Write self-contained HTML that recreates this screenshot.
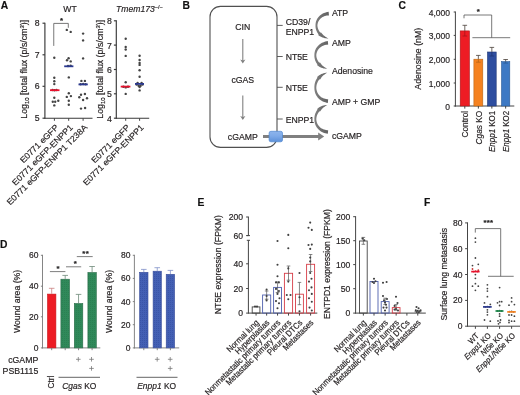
<!DOCTYPE html>
<html lang="en"><head><meta charset="utf-8"><title>Figure</title>
<style>
html,body{margin:0;padding:0;background:#fff;}
body{width:520px;height:395px;overflow:hidden;}
svg{display:block;font-family:"Liberation Sans",sans-serif;}
text{stroke:#231f20;stroke-width:0.18px;}
</style></head><body>
<svg width="520" height="395" viewBox="0 0 520 395">
<rect width="520" height="395" fill="#fff"/>
<text x="0.80" y="9.30" font-size="10.3" font-weight="bold" fill="#111" stroke-width="0">A</text>
<text x="182.40" y="9.20" font-size="10.3" font-weight="bold" fill="#111" stroke-width="0">B</text>
<text x="398.60" y="9.10" font-size="10.3" font-weight="bold" fill="#111" stroke-width="0">C</text>
<text x="0.10" y="247.70" font-size="10.3" font-weight="bold" fill="#111" stroke-width="0">D</text>
<text x="197.40" y="206.00" font-size="10.3" font-weight="bold" fill="#111" stroke-width="0">E</text>
<text x="423.90" y="206.00" font-size="10.3" font-weight="bold" fill="#111" stroke-width="0">F</text>
<line x1="44.90" y1="22.70" x2="44.90" y2="118.70" stroke="#383838" stroke-width="1.15" />
<line x1="42.50" y1="23.20" x2="44.90" y2="23.20" stroke="#383838" stroke-width="1.15" />
<text x="39.50" y="26.25" font-size="8.7" text-anchor="end" fill="#231f20" >8</text>
<line x1="42.50" y1="54.80" x2="44.90" y2="54.80" stroke="#383838" stroke-width="1.15" />
<text x="39.50" y="57.85" font-size="8.7" text-anchor="end" fill="#231f20" >7</text>
<line x1="42.50" y1="86.30" x2="44.90" y2="86.30" stroke="#383838" stroke-width="1.15" />
<text x="39.50" y="89.35" font-size="8.7" text-anchor="end" fill="#231f20" >6</text>
<line x1="42.50" y1="118.20" x2="44.90" y2="118.20" stroke="#383838" stroke-width="1.15" />
<text x="39.50" y="121.25" font-size="8.7" text-anchor="end" fill="#231f20" >5</text>
<line x1="44.40" y1="118.20" x2="92.50" y2="118.20" stroke="#383838" stroke-width="1.15" />
<line x1="54.40" y1="118.20" x2="54.40" y2="120.80" stroke="#454545" stroke-width="1.0" />
<line x1="68.70" y1="118.20" x2="68.70" y2="120.80" stroke="#454545" stroke-width="1.0" />
<line x1="83.10" y1="118.20" x2="83.10" y2="120.80" stroke="#454545" stroke-width="1.0" />
<text x="70.00" y="12.30" font-size="8.6" text-anchor="middle" fill="#231f20" >WT</text>
<text transform="translate(27.10 69.30) rotate(-90) scale(1.05 1)" font-size="8.4" text-anchor="middle" fill="#231f20" >Log<tspan font-size="5.6" dy="1.6">10</tspan><tspan dy="-1.6"> [total flux (p/s/cm</tspan><tspan font-size="5.6" dy="-2.8">3</tspan><tspan dy="2.8">)]</tspan></text>
<polyline points="53.75,45.9 53.75,23.4 68.3,23.4 68.3,27.8" fill="none" stroke="#555" stroke-width="0.8"/>
<text x="61.60" y="23.07" font-size="7.8" text-anchor="middle" font-weight="bold" fill="#222" >*</text>
<circle cx="54.30" cy="57.80" r="1.2" fill="#444444"/>
<circle cx="54.30" cy="77.70" r="1.2" fill="#444444"/>
<circle cx="54.30" cy="81.20" r="1.2" fill="#444444"/>
<circle cx="54.30" cy="84.10" r="1.2" fill="#444444"/>
<circle cx="52.50" cy="90.00" r="1.2" fill="#444444"/>
<circle cx="54.50" cy="90.30" r="1.2" fill="#444444"/>
<circle cx="56.50" cy="90.00" r="1.2" fill="#444444"/>
<circle cx="54.30" cy="97.70" r="1.2" fill="#444444"/>
<circle cx="52.80" cy="101.80" r="1.2" fill="#444444"/>
<circle cx="55.20" cy="101.80" r="1.2" fill="#444444"/>
<circle cx="58.30" cy="100.70" r="1.2" fill="#444444"/>
<circle cx="54.30" cy="105.40" r="1.2" fill="#444444"/>
<circle cx="66.80" cy="29.90" r="1.2" fill="#444444"/>
<circle cx="70.70" cy="31.90" r="1.2" fill="#444444"/>
<circle cx="68.60" cy="58.20" r="1.2" fill="#444444"/>
<circle cx="67.00" cy="60.30" r="1.2" fill="#444444"/>
<circle cx="70.70" cy="61.40" r="1.2" fill="#444444"/>
<circle cx="68.00" cy="66.00" r="1.2" fill="#444444"/>
<circle cx="70.60" cy="65.60" r="1.2" fill="#444444"/>
<circle cx="68.80" cy="77.40" r="1.2" fill="#444444"/>
<circle cx="68.80" cy="93.20" r="1.2" fill="#444444"/>
<circle cx="66.80" cy="96.90" r="1.2" fill="#444444"/>
<circle cx="70.90" cy="96.10" r="1.2" fill="#444444"/>
<circle cx="68.80" cy="100.70" r="1.2" fill="#444444"/>
<circle cx="68.80" cy="104.80" r="1.2" fill="#444444"/>
<circle cx="83.10" cy="33.60" r="1.2" fill="#444444"/>
<circle cx="83.10" cy="40.40" r="1.2" fill="#444444"/>
<circle cx="83.10" cy="58.40" r="1.2" fill="#444444"/>
<circle cx="81.40" cy="80.90" r="1.2" fill="#444444"/>
<circle cx="84.90" cy="80.90" r="1.2" fill="#444444"/>
<circle cx="80.60" cy="84.20" r="1.2" fill="#444444"/>
<circle cx="83.20" cy="84.00" r="1.2" fill="#444444"/>
<circle cx="85.60" cy="84.20" r="1.2" fill="#444444"/>
<circle cx="81.00" cy="94.80" r="1.2" fill="#444444"/>
<circle cx="84.90" cy="94.00" r="1.2" fill="#444444"/>
<circle cx="79.30" cy="97.20" r="1.2" fill="#444444"/>
<circle cx="87.00" cy="98.30" r="1.2" fill="#444444"/>
<circle cx="83.10" cy="100.00" r="1.2" fill="#444444"/>
<circle cx="81.00" cy="108.60" r="1.2" fill="#444444"/>
<circle cx="85.10" cy="108.00" r="1.2" fill="#444444"/>
<line x1="50.00" y1="90.20" x2="59.50" y2="90.20" stroke="#e8112d" stroke-width="1.8" />
<line x1="64.20" y1="66.30" x2="73.40" y2="66.30" stroke="#2b3990" stroke-width="1.8" />
<line x1="78.50" y1="84.40" x2="87.80" y2="84.40" stroke="#2b3990" stroke-width="1.8" />
<text transform="translate(59.00 128.00) rotate(-45) scale(1.04 1)" font-size="8.4" text-anchor="end" fill="#231f20" >E0771 eGFP</text>
<text transform="translate(73.40 128.00) rotate(-45) scale(1.04 1)" font-size="8.4" text-anchor="end" fill="#231f20" >E0771 eGFP-ENPP1</text>
<text transform="translate(87.80 128.00) rotate(-45) scale(1.04 1)" font-size="8.4" text-anchor="end" fill="#231f20" >E0771 eGFP-ENPP1 T238A</text>
<line x1="116.30" y1="20.30" x2="116.30" y2="118.70" stroke="#383838" stroke-width="1.15" />
<line x1="113.90" y1="20.80" x2="116.30" y2="20.80" stroke="#383838" stroke-width="1.15" />
<text x="111.80" y="24.20" font-size="8.7" text-anchor="end" fill="#231f20" >8</text>
<line x1="113.90" y1="45.10" x2="116.30" y2="45.10" stroke="#383838" stroke-width="1.15" />
<text x="111.80" y="48.50" font-size="8.7" text-anchor="end" fill="#231f20" >7</text>
<line x1="113.90" y1="69.50" x2="116.30" y2="69.50" stroke="#383838" stroke-width="1.15" />
<text x="111.80" y="72.90" font-size="8.7" text-anchor="end" fill="#231f20" >6</text>
<line x1="113.90" y1="93.80" x2="116.30" y2="93.80" stroke="#383838" stroke-width="1.15" />
<text x="111.80" y="97.20" font-size="8.7" text-anchor="end" fill="#231f20" >5</text>
<line x1="113.90" y1="118.20" x2="116.30" y2="118.20" stroke="#383838" stroke-width="1.15" />
<text x="111.80" y="121.60" font-size="8.7" text-anchor="end" fill="#231f20" >4</text>
<line x1="115.80" y1="118.20" x2="149.20" y2="118.20" stroke="#383838" stroke-width="1.15" />
<line x1="125.70" y1="118.20" x2="125.70" y2="120.80" stroke="#454545" stroke-width="1.0" />
<line x1="139.60" y1="118.20" x2="139.60" y2="120.80" stroke="#454545" stroke-width="1.0" />
<text x="139.50" y="12.30" font-size="8.6" text-anchor="middle" font-style="italic" fill="#231f20" >Tmem173<tspan font-size="5.6" dy="-3" font-style="normal">−/−</tspan></text>
<text transform="translate(103.20 69.30) rotate(-90) scale(1.05 1)" font-size="8.4" text-anchor="middle" fill="#231f20" >Log<tspan font-size="5.6" dy="1.6">10</tspan><tspan dy="-1.6"> [total flux (p/s/cm</tspan><tspan font-size="5.6" dy="-2.8">3</tspan><tspan dy="2.8">)]</tspan></text>
<circle cx="125.70" cy="38.80" r="1.2" fill="#444444"/>
<circle cx="125.70" cy="46.90" r="1.2" fill="#444444"/>
<circle cx="125.70" cy="49.50" r="1.2" fill="#444444"/>
<circle cx="125.70" cy="55.90" r="1.2" fill="#444444"/>
<circle cx="125.70" cy="82.20" r="1.2" fill="#444444"/>
<circle cx="123.40" cy="86.80" r="1.2" fill="#444444"/>
<circle cx="125.70" cy="87.40" r="1.2" fill="#444444"/>
<circle cx="128.00" cy="86.80" r="1.2" fill="#444444"/>
<circle cx="125.70" cy="93.90" r="1.2" fill="#444444"/>
<circle cx="139.60" cy="55.70" r="1.2" fill="#444444"/>
<circle cx="139.60" cy="60.00" r="1.2" fill="#444444"/>
<circle cx="139.60" cy="62.90" r="1.2" fill="#444444"/>
<circle cx="139.60" cy="64.90" r="1.2" fill="#444444"/>
<circle cx="139.60" cy="70.20" r="1.2" fill="#444444"/>
<circle cx="139.60" cy="76.70" r="1.2" fill="#444444"/>
<circle cx="136.60" cy="84.50" r="1.2" fill="#444444"/>
<circle cx="138.60" cy="85.80" r="1.2" fill="#444444"/>
<circle cx="140.60" cy="85.80" r="1.2" fill="#444444"/>
<circle cx="142.60" cy="84.50" r="1.2" fill="#444444"/>
<circle cx="137.60" cy="83.00" r="1.2" fill="#444444"/>
<circle cx="141.60" cy="83.00" r="1.2" fill="#444444"/>
<circle cx="139.60" cy="87.00" r="1.2" fill="#444444"/>
<circle cx="139.60" cy="90.40" r="1.2" fill="#444444"/>
<line x1="120.70" y1="86.60" x2="130.40" y2="86.60" stroke="#e8112d" stroke-width="1.8" />
<line x1="135.00" y1="83.90" x2="144.00" y2="83.90" stroke="#2b3990" stroke-width="1.8" />
<text transform="translate(130.40 128.00) rotate(-45) scale(1.04 1)" font-size="8.4" text-anchor="end" fill="#231f20" >E0771 eGFP</text>
<text transform="translate(144.30 128.00) rotate(-45) scale(1.04 1)" font-size="8.4" text-anchor="end" fill="#231f20" >E0771 eGFP-ENPP1</text>
<rect x="210" y="6.4" width="67" height="141.0" rx="10.5" ry="10.5" fill="#fff" stroke="#505050" stroke-width="1.1"/>
<text x="242.80" y="30.40" font-size="8.7" text-anchor="middle" fill="#231f20" >CIN</text>
<text x="242.80" y="82.80" font-size="8.7" text-anchor="middle" fill="#231f20" >cGAS</text>
<text x="242.80" y="139.70" font-size="8.7" text-anchor="middle" fill="#231f20" >cGAMP</text>
<line x1="242.80" y1="39.00" x2="242.80" y2="62.00" stroke="#808080" stroke-width="1.1" />
<polygon points="240.2,59.4 242.8,60.4 245.4,59.4 242.8,63.4" fill="#808080"/>
<line x1="242.80" y1="95.40" x2="242.80" y2="118.60" stroke="#808080" stroke-width="1.1" />
<polygon points="240.2,116.0 242.8,117.0 245.4,116.0 242.8,120.0" fill="#808080"/>
<line x1="277.00" y1="25.40" x2="282.70" y2="25.40" stroke="#4d4d4d" stroke-width="0.9" />
<line x1="277.00" y1="56.50" x2="282.70" y2="56.50" stroke="#4d4d4d" stroke-width="0.9" />
<line x1="277.00" y1="87.30" x2="282.70" y2="87.30" stroke="#4d4d4d" stroke-width="0.9" />
<line x1="277.00" y1="119.00" x2="282.70" y2="119.00" stroke="#4d4d4d" stroke-width="0.9" />
<text x="285.70" y="25.20" font-size="8.7" fill="#231f20" >CD39/</text>
<text x="285.70" y="35.10" font-size="8.7" fill="#231f20" >ENPP1</text>
<text x="285.70" y="59.70" font-size="8.7" fill="#231f20" >NT5E</text>
<text x="285.70" y="91.40" font-size="8.7" fill="#231f20" >NT5E</text>
<text x="285.70" y="122.50" font-size="8.7" fill="#231f20" >ENPP1</text>
<text x="331.90" y="16.40" font-size="8.7" fill="#231f20" >ATP</text>
<text x="331.90" y="45.90" font-size="8.7" fill="#231f20" >AMP</text>
<text x="331.90" y="73.60" font-size="8.7" fill="#231f20" >Adenosine</text>
<text x="331.90" y="104.80" font-size="8.7" fill="#231f20" >AMP + GMP</text>
<text x="331.90" y="138.90" font-size="8.7" fill="#231f20" >cGAMP</text>
<line x1="263.00" y1="136.40" x2="319.50" y2="136.40" stroke="#808080" stroke-width="3.0" />
<polygon points="318.2,132.4 324.2,136.4 318.2,140.4" fill="#808080"/>
<defs><linearGradient id="bg" x1="0" y1="0" x2="0" y2="1"><stop offset="0" stop-color="#8db4ec"/><stop offset="0.45" stop-color="#7eaae8"/><stop offset="1" stop-color="#5c90d8"/></linearGradient></defs>
<rect x="269.1" y="131.3" width="13.4" height="10.5" rx="1.8" ry="1.8" fill="url(#bg)" stroke="#4f86d0" stroke-width="0.7"/>
<defs><linearGradient id="ag" gradientUnits="userSpaceOnUse" x1="314" y1="0" x2="329" y2="0"><stop offset="0" stop-color="#808080"/><stop offset="1" stop-color="#606060"/></linearGradient></defs>
<polygon points="328.64,11.81 327.37,12.04 326.16,12.32 325.01,12.66 323.92,13.07 322.89,13.54 321.93,14.07 321.03,14.65 320.20,15.28 319.44,15.96 318.74,16.67 318.11,17.43 317.55,18.22 317.06,19.04 316.64,19.88 316.28,20.74 316.00,21.62 315.78,22.52 315.62,23.42 315.53,24.33 315.51,25.24 315.49,26.15 315.54,27.07 315.65,27.99 315.84,28.91 316.09,29.82 316.41,30.71 316.79,31.60 317.25,32.47 317.78,33.31 318.38,34.13 318.55,35.40 319.47,36.02 320.44,36.59 321.46,37.08 322.52,37.51 323.63,37.87 324.78,38.16 325.98,38.37 327.21,38.50 328.50,38.50 328.50,38.50 327.38,37.91 326.33,37.34 325.37,36.74 324.50,36.11 323.72,35.45 323.01,34.78 322.39,34.08 321.85,33.38 321.38,32.67 320.30,32.53 319.76,31.89 319.28,31.22 318.85,30.53 318.48,29.82 318.16,29.09 317.90,28.35 317.70,27.59 317.55,26.83 317.45,26.06 317.41,25.29 317.49,24.52 317.63,23.76 317.82,23.02 318.06,22.30 318.36,21.60 318.71,20.92 319.11,20.27 319.57,19.65 320.07,19.06 320.62,18.50 321.23,17.98 321.88,17.50 322.58,17.06 323.34,16.66 324.14,16.31 325.00,16.01 325.91,15.76 326.87,15.57 327.89,15.44 328.96,15.39" fill="url(#ag)"/>
<polygon points="327.82,41.01 326.51,41.26 325.27,41.57 324.08,41.94 322.97,42.38 321.92,42.87 320.94,43.43 320.02,44.03 319.17,44.69 318.40,45.40 317.69,46.14 317.05,46.92 316.48,47.74 315.98,48.59 315.55,49.46 315.19,50.35 314.89,51.26 314.67,52.18 314.51,53.11 314.42,54.05 314.40,54.99 314.38,55.93 314.42,56.88 314.54,57.82 314.72,58.77 314.97,59.70 315.28,60.63 315.67,61.54 316.12,62.44 316.64,63.31 317.24,64.15 317.40,65.44 318.31,66.09 319.28,66.69 320.29,67.22 321.35,67.68 322.46,68.07 323.60,68.38 324.79,68.62 326.02,68.78 327.30,68.80 327.30,68.80 326.20,68.19 325.17,67.60 324.23,66.97 323.37,66.32 322.60,65.64 321.90,64.95 321.29,64.23 320.75,63.51 320.28,62.77 319.19,62.59 318.65,61.92 318.17,61.22 317.74,60.50 317.37,59.76 317.05,59.00 316.79,58.23 316.58,57.44 316.43,56.64 316.34,55.84 316.30,55.04 316.38,54.24 316.52,53.45 316.72,52.68 316.97,51.93 317.27,51.19 317.63,50.49 318.04,49.81 318.50,49.15 319.02,48.53 319.59,47.95 320.21,47.40 320.88,46.89 321.60,46.42 322.38,46.00 323.21,45.63 324.09,45.30 325.03,45.03 326.03,44.81 327.08,44.66 328.18,44.59" fill="url(#ag)"/>
<polygon points="328.17,99.31 327.08,99.24 326.04,99.09 325.05,98.87 324.12,98.58 323.24,98.24 322.42,97.84 321.64,97.38 320.92,96.88 320.24,96.32 319.62,95.73 319.05,95.09 318.53,94.40 318.06,93.69 317.65,92.94 317.28,92.15 316.98,91.34 316.72,90.51 316.52,89.65 316.38,88.78 316.30,87.89 316.34,87.00 316.43,86.10 316.58,85.22 316.79,84.34 317.06,83.48 317.38,82.63 317.76,81.80 318.19,80.99 318.68,80.21 319.22,79.46 320.35,79.18 320.81,78.38 321.35,77.60 321.96,76.83 322.64,76.08 323.41,75.35 324.26,74.65 325.19,73.98 326.21,73.34 327.30,72.70 327.30,72.70 326.01,72.77 324.77,72.97 323.57,73.27 322.42,73.64 321.30,74.10 320.23,74.64 319.22,75.24 318.25,75.92 317.33,76.66 317.20,77.99 316.61,78.92 316.10,79.86 315.65,80.84 315.27,81.83 314.96,82.83 314.71,83.85 314.53,84.87 314.42,85.89 314.38,86.92 314.40,87.93 314.42,88.95 314.51,89.96 314.67,90.97 314.89,91.96 315.18,92.94 315.53,93.90 315.96,94.83 316.45,95.74 317.02,96.62 317.65,97.46 318.36,98.26 319.14,99.01 319.98,99.72 320.90,100.37 321.89,100.96 322.94,101.48 324.07,101.94 325.25,102.33 326.51,102.64 327.83,102.89" fill="url(#ag)"/>
<polygon points="328.16,130.21 327.06,130.15 326.02,130.01 325.03,129.80 324.09,129.53 323.21,129.20 322.39,128.82 321.61,128.39 320.89,127.91 320.22,127.39 319.60,126.82 319.03,126.22 318.52,125.57 318.05,124.89 317.64,124.18 317.28,123.44 316.97,122.68 316.72,121.89 316.52,121.08 316.38,120.25 316.30,119.41 316.34,118.57 316.43,117.72 316.58,116.89 316.79,116.06 317.05,115.24 317.37,114.44 317.75,113.66 318.18,112.90 318.67,112.16 319.21,111.45 320.32,111.23 320.78,110.46 321.32,109.71 321.93,108.97 322.62,108.25 323.39,107.55 324.24,106.88 325.18,106.24 326.20,105.62 327.30,105.00 327.30,105.00 326.02,105.04 324.78,105.22 323.59,105.48 322.44,105.82 321.33,106.24 320.26,106.74 319.25,107.30 318.28,107.94 317.36,108.63 317.22,109.94 316.63,110.82 316.11,111.73 315.66,112.66 315.27,113.61 314.96,114.57 314.71,115.54 314.54,116.52 314.42,117.50 314.38,118.48 314.40,119.46 314.42,120.44 314.51,121.41 314.67,122.37 314.89,123.32 315.18,124.26 315.54,125.18 315.97,126.08 316.47,126.95 317.04,127.79 317.67,128.60 318.38,129.37 319.16,130.09 320.01,130.76 320.93,131.38 321.91,131.95 322.97,132.45 324.09,132.88 325.27,133.25 326.52,133.55 327.84,133.79" fill="url(#ag)"/>
<line x1="455.40" y1="11.50" x2="455.40" y2="106.50" stroke="#454545" stroke-width="1.0" />
<line x1="453.70" y1="12.00" x2="455.40" y2="12.00" stroke="#454545" stroke-width="1.0" />
<text x="450.00" y="15.50" font-size="8.5" text-anchor="end" fill="#231f20" >4,000</text>
<line x1="453.70" y1="35.40" x2="455.40" y2="35.40" stroke="#454545" stroke-width="1.0" />
<text x="450.00" y="38.90" font-size="8.5" text-anchor="end" fill="#231f20" >3,000</text>
<line x1="453.70" y1="59.30" x2="455.40" y2="59.30" stroke="#454545" stroke-width="1.0" />
<text x="450.00" y="62.80" font-size="8.5" text-anchor="end" fill="#231f20" >2,000</text>
<line x1="453.70" y1="83.00" x2="455.40" y2="83.00" stroke="#454545" stroke-width="1.0" />
<text x="450.00" y="86.50" font-size="8.5" text-anchor="end" fill="#231f20" >1,000</text>
<line x1="453.70" y1="106.00" x2="455.40" y2="106.00" stroke="#454545" stroke-width="1.0" />
<text x="450.00" y="109.50" font-size="8.5" text-anchor="end" fill="#231f20" >0</text>
<line x1="454.90" y1="106.00" x2="514.30" y2="106.00" stroke="#454545" stroke-width="1.0" />
<rect x="460.20" y="30.90" width="9.20" height="75.10" fill="#ed1c24" stroke="#a8141a" stroke-width="0.6" />
<line x1="464.80" y1="30.60" x2="464.80" y2="36.00" stroke="#a8141a" stroke-width="0.8" />
<line x1="462.50" y1="36.00" x2="467.10" y2="36.00" stroke="#a8141a" stroke-width="0.8" />
<line x1="464.80" y1="25.30" x2="464.80" y2="30.60" stroke="#4a4038" stroke-width="0.8" />
<line x1="462.50" y1="25.30" x2="467.10" y2="25.30" stroke="#4a4038" stroke-width="0.8" />
<line x1="464.80" y1="106.00" x2="464.80" y2="108.60" stroke="#454545" stroke-width="1.0" />
<rect x="473.90" y="59.20" width="8.90" height="46.80" fill="#f58220" stroke="#b86414" stroke-width="0.6" />
<line x1="478.35" y1="58.90" x2="478.35" y2="62.20" stroke="#b86414" stroke-width="0.8" />
<line x1="476.05" y1="62.20" x2="480.65" y2="62.20" stroke="#b86414" stroke-width="0.8" />
<line x1="478.35" y1="55.40" x2="478.35" y2="58.90" stroke="#4a4038" stroke-width="0.8" />
<line x1="476.05" y1="55.40" x2="480.65" y2="55.40" stroke="#4a4038" stroke-width="0.8" />
<line x1="478.35" y1="106.00" x2="478.35" y2="108.60" stroke="#454545" stroke-width="1.0" />
<rect x="487.50" y="52.00" width="8.70" height="54.00" fill="#2e4ea0" stroke="#1f3674" stroke-width="0.6" />
<line x1="491.85" y1="51.70" x2="491.85" y2="56.00" stroke="#1f3674" stroke-width="0.8" />
<line x1="489.55" y1="56.00" x2="494.15" y2="56.00" stroke="#1f3674" stroke-width="0.8" />
<line x1="491.85" y1="47.40" x2="491.85" y2="51.70" stroke="#4a4038" stroke-width="0.8" />
<line x1="489.55" y1="47.40" x2="494.15" y2="47.40" stroke="#4a4038" stroke-width="0.8" />
<line x1="491.85" y1="106.00" x2="491.85" y2="108.60" stroke="#454545" stroke-width="1.0" />
<rect x="501.50" y="61.60" width="8.30" height="44.40" fill="#3d79c4" stroke="#2b5a96" stroke-width="0.6" />
<line x1="505.65" y1="61.30" x2="505.65" y2="63.10" stroke="#2b5a96" stroke-width="0.8" />
<line x1="503.35" y1="63.10" x2="507.95" y2="63.10" stroke="#2b5a96" stroke-width="0.8" />
<line x1="505.65" y1="59.50" x2="505.65" y2="61.30" stroke="#4a4038" stroke-width="0.8" />
<line x1="503.35" y1="59.50" x2="507.95" y2="59.50" stroke="#4a4038" stroke-width="0.8" />
<line x1="505.65" y1="106.00" x2="505.65" y2="108.60" stroke="#454545" stroke-width="1.0" />
<text transform="translate(420.90 58.75) rotate(-90) scale(1.046 1)" font-size="8.4" text-anchor="middle" fill="#231f20" >Adenosine (nM)</text>
<polyline points="464,18.3 464,15.0 491.7,15.0 491.7,37.7" fill="none" stroke="#555" stroke-width="0.8"/>
<line x1="472.40" y1="37.70" x2="510.20" y2="37.70" stroke="#555" stroke-width="0.8" />
<text x="478.30" y="13.97" font-size="7.8" text-anchor="middle" font-weight="bold" fill="#222" >*</text>
<text transform="translate(468.20 110.80) rotate(-90) scale(1.0 1)" font-size="8.3" text-anchor="end" fill="#231f20" >Control</text>
<text transform="translate(481.70 110.80) rotate(-90) scale(1.0 1)" font-size="8.3" text-anchor="end" fill="#231f20" ><tspan font-style="italic">Cgas</tspan> KO</text>
<text transform="translate(495.30 110.80) rotate(-90) scale(0.96 1)" font-size="8.3" text-anchor="end" fill="#231f20" ><tspan font-style="italic">Enpp1</tspan> KO1</text>
<text transform="translate(508.80 110.80) rotate(-90) scale(0.96 1)" font-size="8.3" text-anchor="end" fill="#231f20" ><tspan font-style="italic">Enpp1</tspan> KO2</text>
<defs><pattern id="pg" width="2" height="2" patternUnits="userSpaceOnUse"><rect width="2" height="2" fill="#30895a"/><rect width="1" height="1" fill="#2b8052"/></pattern><pattern id="pb" width="2" height="2" patternUnits="userSpaceOnUse"><rect width="2" height="2" fill="#4460b4"/><rect width="1" height="1" fill="#3a55a8"/></pattern></defs>
<line x1="42.50" y1="254.80" x2="42.50" y2="348.40" stroke="#777" stroke-width="0.9" />
<line x1="40.90" y1="255.30" x2="42.50" y2="255.30" stroke="#777" stroke-width="0.9" />
<text x="38.50" y="258.35" font-size="8.5" text-anchor="end" fill="#231f20" >60</text>
<line x1="40.90" y1="286.20" x2="42.50" y2="286.20" stroke="#777" stroke-width="0.9" />
<text x="38.50" y="289.25" font-size="8.5" text-anchor="end" fill="#231f20" >40</text>
<line x1="40.90" y1="316.80" x2="42.50" y2="316.80" stroke="#777" stroke-width="0.9" />
<text x="38.50" y="319.85" font-size="8.5" text-anchor="end" fill="#231f20" >20</text>
<line x1="40.90" y1="347.90" x2="42.50" y2="347.90" stroke="#777" stroke-width="0.9" />
<text x="38.50" y="350.95" font-size="8.5" text-anchor="end" fill="#231f20" >0</text>
<line x1="42.10" y1="347.90" x2="100.30" y2="347.90" stroke="#777" stroke-width="0.9" />
<rect x="47.50" y="294.10" width="8.40" height="53.80" fill="#ed1c24" stroke="#c9161b" stroke-width="0.6" />
<line x1="51.70" y1="288.30" x2="51.70" y2="293.80" stroke="#c98080" stroke-width="0.8" />
<line x1="48.90" y1="288.30" x2="54.50" y2="288.30" stroke="#c98080" stroke-width="0.8" />
<line x1="51.70" y1="347.90" x2="51.70" y2="350.20" stroke="#777" stroke-width="0.9" />
<rect x="60.90" y="279.20" width="8.60" height="68.70" fill="url(#pg)" stroke="#2a6c48" stroke-width="0.6" />
<line x1="65.20" y1="275.40" x2="65.20" y2="278.90" stroke="#6f8a7a" stroke-width="0.8" />
<line x1="62.40" y1="275.40" x2="68.00" y2="275.40" stroke="#6f8a7a" stroke-width="0.8" />
<line x1="65.20" y1="347.90" x2="65.20" y2="350.20" stroke="#777" stroke-width="0.9" />
<rect x="74.30" y="303.50" width="8.50" height="44.40" fill="url(#pg)" stroke="#2a6c48" stroke-width="0.6" />
<line x1="78.55" y1="294.40" x2="78.55" y2="303.20" stroke="#6f8a7a" stroke-width="0.8" />
<line x1="75.75" y1="294.40" x2="81.35" y2="294.40" stroke="#6f8a7a" stroke-width="0.8" />
<line x1="78.55" y1="347.90" x2="78.55" y2="350.20" stroke="#777" stroke-width="0.9" />
<rect x="87.90" y="272.50" width="8.40" height="75.40" fill="url(#pg)" stroke="#2a6c48" stroke-width="0.6" />
<line x1="92.10" y1="266.50" x2="92.10" y2="272.20" stroke="#6f8a7a" stroke-width="0.8" />
<line x1="89.30" y1="266.50" x2="94.90" y2="266.50" stroke="#6f8a7a" stroke-width="0.8" />
<line x1="92.10" y1="347.90" x2="92.10" y2="350.20" stroke="#777" stroke-width="0.9" />
<text transform="translate(20.30 301.45) rotate(-90) scale(1.04 1)" font-size="8.4" text-anchor="middle" fill="#231f20" >Wound area (%)</text>
<line x1="49.90" y1="271.60" x2="65.40" y2="271.60" stroke="#707070" stroke-width="0.9" />
<text x="58.00" y="271.27" font-size="7.8" text-anchor="middle" font-weight="bold" fill="#222" >*</text>
<line x1="66.00" y1="266.80" x2="81.20" y2="266.80" stroke="#707070" stroke-width="0.9" />
<text x="75.20" y="266.47" font-size="7.8" text-anchor="middle" font-weight="bold" fill="#222" >*</text>
<line x1="76.80" y1="256.60" x2="92.70" y2="256.60" stroke="#707070" stroke-width="0.9" />
<text x="83.85" y="256.27" font-size="7.8" text-anchor="middle" font-weight="bold" fill="#222" >*</text>
<text x="87.15" y="256.27" font-size="7.8" text-anchor="middle" font-weight="bold" fill="#222" >*</text>
<text x="38.30" y="362.70" font-size="8.75" text-anchor="end" fill="#231f20" >cGAMP</text>
<text x="38.30" y="374.10" font-size="8.75" text-anchor="end" fill="#231f20" >PSB1115</text>
<line x1="76.00" y1="359.30" x2="80.60" y2="359.30" stroke="#777" stroke-width="0.8" />
<line x1="78.30" y1="357.00" x2="78.30" y2="361.60" stroke="#777" stroke-width="0.8" />
<line x1="89.20" y1="359.30" x2="93.80" y2="359.30" stroke="#777" stroke-width="0.8" />
<line x1="91.50" y1="357.00" x2="91.50" y2="361.60" stroke="#777" stroke-width="0.8" />
<line x1="89.20" y1="368.40" x2="93.80" y2="368.40" stroke="#777" stroke-width="0.8" />
<line x1="91.50" y1="366.10" x2="91.50" y2="370.70" stroke="#777" stroke-width="0.8" />
<line x1="58.50" y1="377.30" x2="100.00" y2="377.30" stroke="#555" stroke-width="0.9" />
<text transform="translate(54.30 375.60) rotate(-90)" font-size="8.3" text-anchor="end" fill="#231f20" >Ctrl</text>
<text x="79.30" y="388.50" font-size="8.45" text-anchor="middle" fill="#231f20" ><tspan font-style="italic">Cgas</tspan> KO</text>
<line x1="134.40" y1="254.80" x2="134.40" y2="348.40" stroke="#777" stroke-width="0.9" />
<line x1="132.80" y1="255.30" x2="134.40" y2="255.30" stroke="#777" stroke-width="0.9" />
<text x="130.40" y="258.35" font-size="8.5" text-anchor="end" fill="#231f20" >80</text>
<line x1="132.80" y1="278.40" x2="134.40" y2="278.40" stroke="#777" stroke-width="0.9" />
<text x="130.40" y="281.45" font-size="8.5" text-anchor="end" fill="#231f20" >60</text>
<line x1="132.80" y1="301.60" x2="134.40" y2="301.60" stroke="#777" stroke-width="0.9" />
<text x="130.40" y="304.65" font-size="8.5" text-anchor="end" fill="#231f20" >40</text>
<line x1="132.80" y1="324.70" x2="134.40" y2="324.70" stroke="#777" stroke-width="0.9" />
<text x="130.40" y="327.75" font-size="8.5" text-anchor="end" fill="#231f20" >20</text>
<line x1="132.80" y1="347.90" x2="134.40" y2="347.90" stroke="#777" stroke-width="0.9" />
<text x="130.40" y="350.95" font-size="8.5" text-anchor="end" fill="#231f20" >0</text>
<line x1="134.00" y1="347.90" x2="179.20" y2="347.90" stroke="#777" stroke-width="0.9" />
<rect x="139.60" y="272.30" width="8.40" height="75.60" fill="url(#pb)" stroke="#3a4f9c" stroke-width="0.6" />
<line x1="143.80" y1="269.40" x2="143.80" y2="272.00" stroke="#8090c8" stroke-width="0.8" />
<line x1="141.00" y1="269.40" x2="146.60" y2="269.40" stroke="#8090c8" stroke-width="0.8" />
<line x1="143.80" y1="347.90" x2="143.80" y2="350.20" stroke="#777" stroke-width="0.9" />
<rect x="153.10" y="271.20" width="8.30" height="76.70" fill="url(#pb)" stroke="#3a4f9c" stroke-width="0.6" />
<line x1="157.25" y1="267.70" x2="157.25" y2="270.90" stroke="#8090c8" stroke-width="0.8" />
<line x1="154.45" y1="267.70" x2="160.05" y2="267.70" stroke="#8090c8" stroke-width="0.8" />
<line x1="157.25" y1="347.90" x2="157.25" y2="350.20" stroke="#777" stroke-width="0.9" />
<rect x="166.20" y="274.30" width="8.40" height="73.60" fill="url(#pb)" stroke="#3a4f9c" stroke-width="0.6" />
<line x1="170.40" y1="270.40" x2="170.40" y2="274.00" stroke="#8090c8" stroke-width="0.8" />
<line x1="167.60" y1="270.40" x2="173.20" y2="270.40" stroke="#8090c8" stroke-width="0.8" />
<line x1="170.40" y1="347.90" x2="170.40" y2="350.20" stroke="#777" stroke-width="0.9" />
<text transform="translate(112.20 301.45) rotate(-90) scale(1.04 1)" font-size="8.4" text-anchor="middle" fill="#231f20" >Wound area (%)</text>
<line x1="154.90" y1="359.30" x2="159.50" y2="359.30" stroke="#777" stroke-width="0.8" />
<line x1="157.20" y1="357.00" x2="157.20" y2="361.60" stroke="#777" stroke-width="0.8" />
<line x1="167.90" y1="359.30" x2="172.50" y2="359.30" stroke="#777" stroke-width="0.8" />
<line x1="170.20" y1="357.00" x2="170.20" y2="361.60" stroke="#777" stroke-width="0.8" />
<line x1="167.90" y1="368.40" x2="172.50" y2="368.40" stroke="#777" stroke-width="0.8" />
<line x1="170.20" y1="366.10" x2="170.20" y2="370.70" stroke="#777" stroke-width="0.8" />
<line x1="136.50" y1="377.30" x2="177.50" y2="377.30" stroke="#555" stroke-width="0.9" />
<text x="156.70" y="388.90" font-size="8.45" text-anchor="middle" fill="#231f20" ><tspan font-style="italic">Enpp1</tspan> KO</text>
<line x1="248.40" y1="216.60" x2="248.40" y2="235.60" stroke="#454545" stroke-width="1.0" />
<line x1="248.40" y1="240.30" x2="248.40" y2="313.50" stroke="#454545" stroke-width="1.0" />
<line x1="246.80" y1="235.60" x2="250.00" y2="235.60" stroke="#454545" stroke-width="1.0" />
<line x1="246.80" y1="240.30" x2="250.00" y2="240.30" stroke="#454545" stroke-width="1.0" />
<line x1="246.10" y1="217.00" x2="248.40" y2="217.00" stroke="#454545" stroke-width="1.0" />
<text x="243.00" y="220.10" font-size="8.6" text-anchor="end" fill="#231f20" >200</text>
<line x1="246.10" y1="235.60" x2="248.40" y2="235.60" stroke="#454545" stroke-width="1.0" />
<text x="243.00" y="238.70" font-size="8.6" text-anchor="end" fill="#231f20" >60</text>
<line x1="246.10" y1="263.80" x2="248.40" y2="263.80" stroke="#454545" stroke-width="1.0" />
<text x="243.00" y="266.90" font-size="8.6" text-anchor="end" fill="#231f20" >40</text>
<line x1="246.10" y1="288.50" x2="248.40" y2="288.50" stroke="#454545" stroke-width="1.0" />
<text x="243.00" y="291.60" font-size="8.6" text-anchor="end" fill="#231f20" >20</text>
<line x1="246.10" y1="313.10" x2="248.40" y2="313.10" stroke="#454545" stroke-width="1.0" />
<text x="243.00" y="316.20" font-size="8.6" text-anchor="end" fill="#231f20" >0</text>
<line x1="248.00" y1="313.10" x2="317.30" y2="313.10" stroke="#454545" stroke-width="1.0" />
<rect x="252.20" y="306.90" width="7.70" height="6.20" fill="none" stroke="#444" stroke-width="0.9" />
<line x1="256.05" y1="313.10" x2="256.05" y2="315.60" stroke="#454545" stroke-width="1.0" />
<rect x="262.60" y="295.00" width="8.10" height="18.10" fill="none" stroke="#4f60ae" stroke-width="0.9" />
<line x1="266.65" y1="291.00" x2="266.65" y2="299.20" stroke="#555" stroke-width="0.7" />
<line x1="264.85" y1="291.00" x2="268.45" y2="291.00" stroke="#555" stroke-width="0.7" />
<line x1="264.85" y1="299.20" x2="268.45" y2="299.20" stroke="#555" stroke-width="0.7" />
<line x1="266.65" y1="313.10" x2="266.65" y2="315.60" stroke="#454545" stroke-width="1.0" />
<rect x="273.60" y="287.40" width="7.90" height="25.70" fill="none" stroke="#4f60ae" stroke-width="0.9" />
<line x1="277.55" y1="281.90" x2="277.55" y2="292.50" stroke="#555" stroke-width="0.7" />
<line x1="275.75" y1="281.90" x2="279.35" y2="281.90" stroke="#555" stroke-width="0.7" />
<line x1="275.75" y1="292.50" x2="279.35" y2="292.50" stroke="#555" stroke-width="0.7" />
<line x1="277.55" y1="313.10" x2="277.55" y2="315.60" stroke="#454545" stroke-width="1.0" />
<rect x="284.40" y="273.30" width="8.20" height="39.80" fill="none" stroke="#d63d47" stroke-width="0.9" />
<line x1="288.50" y1="266.00" x2="288.50" y2="280.20" stroke="#555" stroke-width="0.7" />
<line x1="286.70" y1="266.00" x2="290.30" y2="266.00" stroke="#555" stroke-width="0.7" />
<line x1="286.70" y1="280.20" x2="290.30" y2="280.20" stroke="#555" stroke-width="0.7" />
<line x1="288.50" y1="313.10" x2="288.50" y2="315.60" stroke="#454545" stroke-width="1.0" />
<rect x="295.50" y="294.20" width="7.90" height="18.90" fill="none" stroke="#d63d47" stroke-width="0.9" />
<line x1="299.45" y1="282.40" x2="299.45" y2="304.70" stroke="#555" stroke-width="0.7" />
<line x1="297.65" y1="282.40" x2="301.25" y2="282.40" stroke="#555" stroke-width="0.7" />
<line x1="297.65" y1="304.70" x2="301.25" y2="304.70" stroke="#555" stroke-width="0.7" />
<line x1="299.45" y1="313.10" x2="299.45" y2="315.60" stroke="#454545" stroke-width="1.0" />
<rect x="306.60" y="264.30" width="8.00" height="48.80" fill="none" stroke="#d63d47" stroke-width="0.9" />
<line x1="310.60" y1="254.50" x2="310.60" y2="271.50" stroke="#555" stroke-width="0.7" />
<line x1="308.80" y1="254.50" x2="312.40" y2="254.50" stroke="#555" stroke-width="0.7" />
<line x1="308.80" y1="271.50" x2="312.40" y2="271.50" stroke="#555" stroke-width="0.7" />
<line x1="310.60" y1="313.10" x2="310.60" y2="315.60" stroke="#454545" stroke-width="1.0" />
<circle cx="255.00" cy="306.50" r="1.05" fill="#404040"/>
<circle cx="257.00" cy="306.60" r="1.05" fill="#404040"/>
<circle cx="266.60" cy="289.60" r="1.05" fill="#404040"/>
<circle cx="266.60" cy="296.00" r="1.05" fill="#404040"/>
<circle cx="266.60" cy="300.40" r="1.05" fill="#404040"/>
<circle cx="277.50" cy="241.00" r="1.05" fill="#404040"/>
<circle cx="277.50" cy="264.80" r="1.05" fill="#404040"/>
<circle cx="277.50" cy="276.30" r="1.05" fill="#404040"/>
<circle cx="276.00" cy="282.40" r="1.05" fill="#404040"/>
<circle cx="278.90" cy="282.40" r="1.05" fill="#404040"/>
<circle cx="276.00" cy="288.90" r="1.05" fill="#404040"/>
<circle cx="278.90" cy="291.00" r="1.05" fill="#404040"/>
<circle cx="277.50" cy="293.90" r="1.05" fill="#404040"/>
<circle cx="279.50" cy="298.20" r="1.05" fill="#404040"/>
<circle cx="276.00" cy="301.10" r="1.05" fill="#404040"/>
<circle cx="279.00" cy="303.30" r="1.05" fill="#404040"/>
<circle cx="277.50" cy="308.30" r="1.05" fill="#404040"/>
<circle cx="288.30" cy="234.90" r="1.05" fill="#404040"/>
<circle cx="288.30" cy="248.20" r="1.05" fill="#404040"/>
<circle cx="288.30" cy="268.40" r="1.05" fill="#404040"/>
<circle cx="288.30" cy="281.60" r="1.05" fill="#404040"/>
<circle cx="286.80" cy="295.00" r="1.05" fill="#404040"/>
<circle cx="290.50" cy="295.00" r="1.05" fill="#404040"/>
<circle cx="288.30" cy="299.20" r="1.05" fill="#404040"/>
<circle cx="299.50" cy="273.00" r="1.05" fill="#404040"/>
<circle cx="299.50" cy="297.20" r="1.05" fill="#404040"/>
<circle cx="299.50" cy="311.20" r="1.05" fill="#404040"/>
<circle cx="310.20" cy="222.60" r="1.05" fill="#404040"/>
<circle cx="308.50" cy="227.70" r="1.05" fill="#404040"/>
<circle cx="311.80" cy="229.90" r="1.05" fill="#404040"/>
<circle cx="308.50" cy="245.00" r="1.05" fill="#404040"/>
<circle cx="311.80" cy="244.60" r="1.05" fill="#404040"/>
<circle cx="310.20" cy="248.90" r="1.05" fill="#404040"/>
<circle cx="310.20" cy="257.60" r="1.05" fill="#404040"/>
<circle cx="310.20" cy="261.40" r="1.05" fill="#404040"/>
<circle cx="310.20" cy="273.00" r="1.05" fill="#404040"/>
<circle cx="311.50" cy="278.80" r="1.05" fill="#404040"/>
<circle cx="309.00" cy="281.60" r="1.05" fill="#404040"/>
<circle cx="311.50" cy="287.40" r="1.05" fill="#404040"/>
<circle cx="309.00" cy="290.30" r="1.05" fill="#404040"/>
<circle cx="311.80" cy="293.90" r="1.05" fill="#404040"/>
<circle cx="309.00" cy="298.20" r="1.05" fill="#404040"/>
<circle cx="311.80" cy="301.80" r="1.05" fill="#404040"/>
<circle cx="309.50" cy="307.60" r="1.05" fill="#404040"/>
<circle cx="311.80" cy="310.50" r="1.05" fill="#404040"/>
<text transform="translate(221.30 264.65) rotate(-90) scale(1.013 1)" font-size="8.6" text-anchor="middle" fill="#231f20" >NT5E expression (FPKM)</text>
<text transform="translate(259.45 323.30) rotate(-45) scale(0.895 1)" font-size="8.6" text-anchor="end" fill="#231f20" >Normal lung</text>
<text transform="translate(270.05 323.30) rotate(-45) scale(0.895 1)" font-size="8.6" text-anchor="end" fill="#231f20" >Hyperplasias</text>
<text transform="translate(280.95 323.30) rotate(-45) scale(0.895 1)" font-size="8.6" text-anchor="end" fill="#231f20" >Nonmetastatic primary tumors</text>
<text transform="translate(291.90 323.30) rotate(-45) scale(0.895 1)" font-size="8.6" text-anchor="end" fill="#231f20" >Metastatic primary tumors</text>
<text transform="translate(302.85 323.30) rotate(-45) scale(0.895 1)" font-size="8.6" text-anchor="end" fill="#231f20" >Pleural DTCs</text>
<text transform="translate(314.00 323.30) rotate(-45) scale(0.895 1)" font-size="8.6" text-anchor="end" fill="#231f20" >Metastases</text>
<line x1="355.60" y1="216.20" x2="355.60" y2="313.60" stroke="#454545" stroke-width="1.0" />
<line x1="353.20" y1="216.70" x2="355.60" y2="216.70" stroke="#454545" stroke-width="1.0" />
<text x="350.30" y="219.75" font-size="8.6" text-anchor="end" fill="#231f20" >200</text>
<line x1="353.20" y1="240.70" x2="355.60" y2="240.70" stroke="#454545" stroke-width="1.0" />
<text x="350.30" y="243.75" font-size="8.6" text-anchor="end" fill="#231f20" >150</text>
<line x1="353.20" y1="264.60" x2="355.60" y2="264.60" stroke="#454545" stroke-width="1.0" />
<text x="350.30" y="267.65" font-size="8.6" text-anchor="end" fill="#231f20" >100</text>
<line x1="353.20" y1="288.70" x2="355.60" y2="288.70" stroke="#454545" stroke-width="1.0" />
<text x="350.30" y="291.75" font-size="8.6" text-anchor="end" fill="#231f20" >50</text>
<line x1="353.20" y1="313.10" x2="355.60" y2="313.10" stroke="#454545" stroke-width="1.0" />
<text x="350.30" y="316.15" font-size="8.6" text-anchor="end" fill="#231f20" >0</text>
<line x1="355.20" y1="313.10" x2="425.80" y2="313.10" stroke="#454545" stroke-width="1.0" />
<rect x="359.50" y="241.00" width="7.70" height="72.10" fill="none" stroke="#444" stroke-width="0.9" />
<line x1="363.35" y1="237.40" x2="363.35" y2="244.30" stroke="#555" stroke-width="0.7" />
<line x1="361.55" y1="237.40" x2="365.15" y2="237.40" stroke="#555" stroke-width="0.7" />
<line x1="361.55" y1="244.30" x2="365.15" y2="244.30" stroke="#555" stroke-width="0.7" />
<line x1="363.35" y1="313.10" x2="363.35" y2="315.60" stroke="#454545" stroke-width="1.0" />
<rect x="370.00" y="281.50" width="8.00" height="31.60" fill="none" stroke="#4f60ae" stroke-width="0.9" />
<line x1="374.00" y1="313.10" x2="374.00" y2="315.60" stroke="#454545" stroke-width="1.0" />
<rect x="381.20" y="301.60" width="7.90" height="11.50" fill="none" stroke="#4f60ae" stroke-width="0.9" />
<line x1="385.15" y1="298.20" x2="385.15" y2="304.60" stroke="#555" stroke-width="0.7" />
<line x1="383.35" y1="298.20" x2="386.95" y2="298.20" stroke="#555" stroke-width="0.7" />
<line x1="383.35" y1="304.60" x2="386.95" y2="304.60" stroke="#555" stroke-width="0.7" />
<line x1="385.15" y1="313.10" x2="385.15" y2="315.60" stroke="#454545" stroke-width="1.0" />
<rect x="392.30" y="307.60" width="7.70" height="5.50" fill="none" stroke="#d63d47" stroke-width="0.9" />
<line x1="396.15" y1="304.60" x2="396.15" y2="310.20" stroke="#555" stroke-width="0.7" />
<line x1="394.35" y1="304.60" x2="397.95" y2="304.60" stroke="#555" stroke-width="0.7" />
<line x1="394.35" y1="310.20" x2="397.95" y2="310.20" stroke="#555" stroke-width="0.7" />
<line x1="396.15" y1="313.10" x2="396.15" y2="315.60" stroke="#454545" stroke-width="1.0" />
<line x1="406.90" y1="313.10" x2="406.90" y2="315.60" stroke="#454545" stroke-width="1.0" />
<line x1="417.75" y1="313.10" x2="417.75" y2="315.60" stroke="#454545" stroke-width="1.0" />
<circle cx="362.50" cy="238.60" r="1.05" fill="#404040"/>
<circle cx="364.30" cy="240.20" r="1.05" fill="#404040"/>
<circle cx="374.00" cy="278.80" r="1.05" fill="#404040"/>
<circle cx="372.50" cy="282.00" r="1.05" fill="#404040"/>
<circle cx="375.50" cy="281.20" r="1.05" fill="#404040"/>
<circle cx="374.00" cy="283.00" r="1.05" fill="#404040"/>
<circle cx="383.00" cy="282.80" r="1.05" fill="#404040"/>
<circle cx="386.60" cy="282.00" r="1.05" fill="#404040"/>
<circle cx="383.00" cy="296.00" r="1.05" fill="#404040"/>
<circle cx="387.00" cy="299.00" r="1.05" fill="#404040"/>
<circle cx="385.00" cy="302.50" r="1.05" fill="#404040"/>
<circle cx="383.50" cy="307.60" r="1.05" fill="#404040"/>
<circle cx="386.50" cy="307.60" r="1.05" fill="#404040"/>
<circle cx="385.00" cy="310.50" r="1.05" fill="#404040"/>
<circle cx="384.00" cy="300.20" r="1.05" fill="#404040"/>
<circle cx="386.00" cy="304.80" r="1.05" fill="#404040"/>
<circle cx="396.00" cy="296.80" r="1.05" fill="#404040"/>
<circle cx="397.50" cy="303.00" r="1.05" fill="#404040"/>
<circle cx="394.60" cy="305.90" r="1.05" fill="#404040"/>
<circle cx="396.00" cy="309.00" r="1.05" fill="#404040"/>
<circle cx="398.00" cy="310.50" r="1.05" fill="#404040"/>
<circle cx="394.50" cy="309.50" r="1.05" fill="#404040"/>
<circle cx="416.50" cy="307.00" r="1.05" fill="#404040"/>
<circle cx="418.60" cy="308.20" r="1.05" fill="#404040"/>
<circle cx="415.80" cy="310.40" r="1.05" fill="#404040"/>
<circle cx="417.70" cy="310.80" r="1.05" fill="#404040"/>
<circle cx="419.60" cy="311.20" r="1.05" fill="#404040"/>
<circle cx="416.80" cy="312.00" r="1.05" fill="#404040"/>
<circle cx="418.80" cy="312.20" r="1.05" fill="#404040"/>
<circle cx="420.60" cy="310.20" r="1.05" fill="#404040"/>
<line x1="414.50" y1="311.80" x2="421.50" y2="311.80" stroke="#555" stroke-width="0.8" />
<text transform="translate(330.40 264.10) rotate(-90)" font-size="8.6" text-anchor="middle" fill="#231f20" >ENTPD1 expression (FPKM)</text>
<text transform="translate(366.75 323.30) rotate(-45) scale(0.895 1)" font-size="8.6" text-anchor="end" fill="#231f20" >Normal lung</text>
<text transform="translate(377.40 323.30) rotate(-45) scale(0.895 1)" font-size="8.6" text-anchor="end" fill="#231f20" >Hyperplasias</text>
<text transform="translate(388.55 323.30) rotate(-45) scale(0.895 1)" font-size="8.6" text-anchor="end" fill="#231f20" >Nonmetastatic primary tumors</text>
<text transform="translate(399.55 323.30) rotate(-45) scale(0.895 1)" font-size="8.6" text-anchor="end" fill="#231f20" >Metastatic primary tumors</text>
<text transform="translate(410.30 323.30) rotate(-45) scale(0.895 1)" font-size="8.6" text-anchor="end" fill="#231f20" >Pleural DTCs</text>
<text transform="translate(421.15 323.30) rotate(-45) scale(0.895 1)" font-size="8.6" text-anchor="end" fill="#231f20" >Metastases</text>
<line x1="467.50" y1="222.40" x2="467.50" y2="326.70" stroke="#454545" stroke-width="1.0" />
<line x1="465.10" y1="222.90" x2="467.50" y2="222.90" stroke="#454545" stroke-width="1.0" />
<text x="462.50" y="225.95" font-size="8.5" text-anchor="end" fill="#231f20" >80</text>
<line x1="465.10" y1="248.70" x2="467.50" y2="248.70" stroke="#454545" stroke-width="1.0" />
<text x="462.50" y="251.75" font-size="8.5" text-anchor="end" fill="#231f20" >60</text>
<line x1="465.10" y1="274.50" x2="467.50" y2="274.50" stroke="#454545" stroke-width="1.0" />
<text x="462.50" y="277.55" font-size="8.5" text-anchor="end" fill="#231f20" >40</text>
<line x1="465.10" y1="300.40" x2="467.50" y2="300.40" stroke="#454545" stroke-width="1.0" />
<text x="462.50" y="303.45" font-size="8.5" text-anchor="end" fill="#231f20" >20</text>
<line x1="465.10" y1="326.20" x2="467.50" y2="326.20" stroke="#454545" stroke-width="1.0" />
<text x="462.50" y="329.25" font-size="8.5" text-anchor="end" fill="#231f20" >0</text>
<line x1="467.10" y1="326.20" x2="520.00" y2="326.20" stroke="#454545" stroke-width="1.0" />
<line x1="475.40" y1="326.20" x2="475.40" y2="328.80" stroke="#454545" stroke-width="1.0" />
<line x1="487.40" y1="326.20" x2="487.40" y2="328.80" stroke="#454545" stroke-width="1.0" />
<line x1="499.60" y1="326.20" x2="499.60" y2="328.80" stroke="#454545" stroke-width="1.0" />
<line x1="511.60" y1="326.20" x2="511.60" y2="328.80" stroke="#454545" stroke-width="1.0" />
<text transform="translate(446.80 274.25) rotate(-90) scale(1.01 1)" font-size="8.6" text-anchor="middle" fill="#231f20" >Surface lung metastasis</text>
<polyline points="475.3,232.6 475.3,228.6 500.7,228.6 500.7,276.3" fill="none" stroke="#555" stroke-width="0.8"/>
<line x1="488.00" y1="276.30" x2="513.70" y2="276.30" stroke="#555" stroke-width="0.8" />
<text x="485.00" y="224.97" font-size="7.8" text-anchor="middle" font-weight="bold" fill="#222" >*</text>
<text x="488.30" y="224.97" font-size="7.8" text-anchor="middle" font-weight="bold" fill="#222" >*</text>
<text x="491.60" y="224.97" font-size="7.8" text-anchor="middle" font-weight="bold" fill="#222" >*</text>
<circle cx="475.40" cy="238.20" r="0.9" fill="#444"/>
<circle cx="475.40" cy="242.10" r="0.9" fill="#444"/>
<circle cx="475.40" cy="258.00" r="0.9" fill="#444"/>
<circle cx="478.30" cy="264.30" r="0.9" fill="#444"/>
<circle cx="472.50" cy="265.60" r="0.9" fill="#444"/>
<circle cx="475.40" cy="274.60" r="0.9" fill="#444"/>
<circle cx="475.40" cy="278.30" r="0.9" fill="#444"/>
<circle cx="475.40" cy="283.70" r="0.9" fill="#444"/>
<circle cx="472.50" cy="286.20" r="0.9" fill="#444"/>
<circle cx="478.30" cy="286.20" r="0.9" fill="#444"/>
<circle cx="475.40" cy="290.30" r="0.9" fill="#444"/>
<circle cx="487.40" cy="284.80" r="0.9" fill="#444"/>
<circle cx="487.40" cy="288.60" r="0.9" fill="#444"/>
<circle cx="487.40" cy="291.10" r="0.9" fill="#444"/>
<circle cx="487.40" cy="296.70" r="0.9" fill="#444"/>
<circle cx="484.50" cy="302.90" r="0.9" fill="#444"/>
<circle cx="490.30" cy="304.40" r="0.9" fill="#444"/>
<circle cx="487.40" cy="309.80" r="0.9" fill="#444"/>
<circle cx="487.40" cy="312.10" r="0.9" fill="#444"/>
<circle cx="487.40" cy="314.80" r="0.9" fill="#444"/>
<circle cx="484.50" cy="320.00" r="0.9" fill="#444"/>
<circle cx="490.30" cy="321.20" r="0.9" fill="#444"/>
<circle cx="485.40" cy="306.90" r="0.9" fill="#444"/>
<circle cx="487.40" cy="306.60" r="0.9" fill="#444"/>
<circle cx="489.40" cy="306.90" r="0.9" fill="#444"/>
<circle cx="499.60" cy="287.60" r="0.9" fill="#444"/>
<circle cx="497.50" cy="302.80" r="0.9" fill="#444"/>
<circle cx="499.60" cy="301.70" r="0.9" fill="#444"/>
<circle cx="501.70" cy="301.70" r="0.9" fill="#444"/>
<circle cx="499.60" cy="305.50" r="0.9" fill="#444"/>
<circle cx="499.60" cy="313.90" r="0.9" fill="#444"/>
<circle cx="499.60" cy="316.20" r="0.9" fill="#444"/>
<circle cx="498.00" cy="320.90" r="0.9" fill="#444"/>
<circle cx="500.50" cy="320.00" r="0.9" fill="#444"/>
<circle cx="498.50" cy="323.80" r="0.9" fill="#444"/>
<circle cx="500.00" cy="322.40" r="0.9" fill="#444"/>
<circle cx="497.60" cy="311.00" r="0.9" fill="#444"/>
<circle cx="499.60" cy="310.70" r="0.9" fill="#444"/>
<circle cx="501.60" cy="311.00" r="0.9" fill="#444"/>
<circle cx="511.60" cy="297.90" r="0.9" fill="#444"/>
<circle cx="511.60" cy="301.70" r="0.9" fill="#444"/>
<circle cx="509.00" cy="305.20" r="0.9" fill="#444"/>
<circle cx="514.40" cy="304.60" r="0.9" fill="#444"/>
<circle cx="509.00" cy="315.00" r="0.9" fill="#444"/>
<circle cx="511.60" cy="315.00" r="0.9" fill="#444"/>
<circle cx="514.40" cy="316.20" r="0.9" fill="#444"/>
<circle cx="509.00" cy="320.50" r="0.9" fill="#444"/>
<circle cx="511.60" cy="321.20" r="0.9" fill="#444"/>
<circle cx="514.40" cy="321.20" r="0.9" fill="#444"/>
<circle cx="509.00" cy="322.60" r="0.9" fill="#444"/>
<circle cx="509.60" cy="311.60" r="0.9" fill="#444"/>
<circle cx="511.60" cy="311.40" r="0.9" fill="#444"/>
<circle cx="513.60" cy="311.80" r="0.9" fill="#444"/>
<circle cx="472.50" cy="269.00" r="0.9" fill="#c33"/>
<circle cx="478.30" cy="270.20" r="0.9" fill="#c33"/>
<circle cx="473.60" cy="271.60" r="0.9" fill="#c33"/>
<circle cx="475.60" cy="271.20" r="0.9" fill="#c33"/>
<circle cx="477.60" cy="271.60" r="0.9" fill="#c33"/>
<line x1="471.20" y1="271.60" x2="479.60" y2="271.60" stroke="#e8112d" stroke-width="1.7" />
<line x1="483.00" y1="306.90" x2="491.70" y2="306.90" stroke="#2b3990" stroke-width="1.7" />
<line x1="495.50" y1="311.00" x2="503.50" y2="311.00" stroke="#1a8a4a" stroke-width="1.7" />
<line x1="507.20" y1="311.90" x2="515.80" y2="311.90" stroke="#f58220" stroke-width="1.7" />
<text transform="translate(479.50 336.30) rotate(-45) scale(0.89 1)" font-size="8.3" text-anchor="end" fill="#231f20" >WT</text>
<text transform="translate(491.50 336.30) rotate(-45) scale(0.89 1)" font-size="8.3" text-anchor="end" fill="#231f20" ><tspan font-style="italic">Enpp1</tspan> KO</text>
<text transform="translate(503.70 336.30) rotate(-45) scale(0.89 1)" font-size="8.3" text-anchor="end" fill="#231f20" ><tspan font-style="italic">Nt5e</tspan> KO</text>
<text transform="translate(515.70 336.30) rotate(-45) scale(0.89 1)" font-size="8.3" text-anchor="end" fill="#231f20" ><tspan font-style="italic">Enpp1/Nt5e</tspan> KO</text>
</svg>
</body></html>
